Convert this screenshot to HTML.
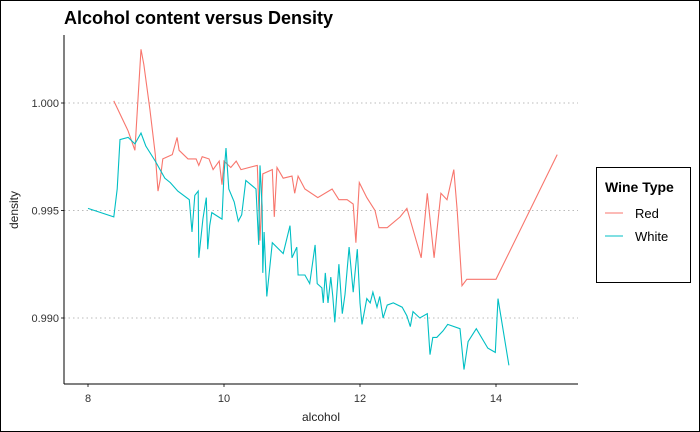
<!DOCTYPE html>
<html><head><meta charset="utf-8"><style>
body{margin:0;background:#fff}
svg{display:block;font-family:"Liberation Sans",Arial,sans-serif}
</style></head><body>
<svg id="chart" width="700" height="432">
<rect x="0.5" y="0.5" width="699" height="431" fill="#fff" stroke="#000"/>
<text x="64" y="24" font-size="18" font-weight="bold">Alcohol content versus Density</text>
<g id="grid"></g>
<g id="axes"></g>
<g id="series"></g>
<text x="321" y="421" font-size="12" text-anchor="middle" fill="#222">alcohol</text>
<text x="18" y="210" font-size="12" text-anchor="middle" fill="#222" transform="rotate(-90 18 210)">density</text>
<g>
<rect x="596.5" y="167.5" width="94" height="115" fill="#fff" stroke="#000"/>
<text x="605" y="192" font-size="14" font-weight="bold">Wine Type</text>
<line x1="605" y1="213" x2="623" y2="213" stroke="#F8766D"/>
<text x="635" y="218" font-size="13">Red</text>
<line x1="605" y1="236" x2="623" y2="236" stroke="#00BFC4"/>
<text x="635" y="241" font-size="13">White</text>
</g>
</svg>
<script>
const xTicks=[8,10,12,14];
const yTicks=[0.990,0.995,1.000];
const yTickLabels=["0.990","0.995","1.000"];
const redAlcohol=[8.38,8.50,8.59,8.69,8.78,8.82,8.91,8.99,9.03,9.06,9.10,9.24,9.31,9.34,9.47,9.59,9.63,9.68,9.78,9.84,9.93,9.97,10.00,10.10,10.18,10.25,10.49,10.53,10.57,10.71,10.74,10.78,10.87,11.00,11.04,11.09,11.19,11.38,11.59,11.69,11.81,11.90,11.94,11.99,12.10,12.22,12.28,12.40,12.59,12.69,12.90,12.99,13.09,13.19,13.28,13.38,13.43,13.50,13.57,14.00,14.90];
const redDensity=[1.0001,0.9993,0.9987,0.9978,1.0025,1.0018,0.9997,0.9976,0.9959,0.9964,0.9974,0.9976,0.9984,0.9978,0.9974,0.9974,0.9971,0.9975,0.9974,0.9969,0.9973,0.9962,0.9973,0.9970,0.9973,0.9969,0.9971,0.9936,0.9967,0.9969,0.9947,0.9970,0.9965,0.9966,0.9958,0.9966,0.9960,0.9956,0.9960,0.9955,0.9955,0.9953,0.9935,0.9963,0.9956,0.9950,0.9942,0.9942,0.9947,0.9951,0.9928,0.9958,0.9928,0.9958,0.9955,0.9969,0.9950,0.9915,0.9918,0.9918,0.9976];
const whiteAlcohol=[8.00,8.38,8.43,8.47,8.59,8.69,8.78,8.85,8.99,9.13,9.21,9.32,9.49,9.53,9.57,9.62,9.63,9.69,9.74,9.76,9.79,9.82,9.97,10.00,10.03,10.07,10.15,10.21,10.26,10.32,10.47,10.51,10.53,10.56,10.57,10.59,10.63,10.71,10.87,10.97,11.00,11.07,11.09,11.19,11.26,11.34,11.37,11.44,11.46,11.49,11.53,11.57,11.60,11.63,11.69,11.74,11.78,11.84,11.90,11.96,12.00,12.03,12.10,12.15,12.19,12.25,12.29,12.34,12.40,12.49,12.62,12.69,12.74,12.78,12.88,12.99,13.03,13.07,13.13,13.22,13.29,13.47,13.53,13.59,13.71,13.88,13.99,14.03,14.19];
const whiteDensity=[0.9951,0.9947,0.9960,0.9983,0.9984,0.9981,0.9986,0.9980,0.9973,0.9965,0.9963,0.9959,0.9955,0.9940,0.9957,0.9959,0.9928,0.9946,0.9956,0.9932,0.9943,0.9949,0.9946,0.9967,0.9979,0.9960,0.9954,0.9945,0.9948,0.9964,0.9960,0.9934,0.9971,0.9952,0.9921,0.9940,0.9910,0.9935,0.9930,0.9943,0.9928,0.9933,0.9920,0.9920,0.9916,0.9934,0.9916,0.9914,0.9907,0.9921,0.9907,0.9919,0.9910,0.9898,0.9925,0.9902,0.9911,0.9933,0.9912,0.9932,0.9907,0.9897,0.9909,0.9907,0.9912,0.9905,0.9910,0.9900,0.9906,0.9907,0.9905,0.9901,0.9896,0.9903,0.9900,0.9902,0.9883,0.9891,0.9891,0.9894,0.9897,0.9895,0.9876,0.9889,0.9895,0.9886,0.9884,0.9909,0.9878];

const NS="http://www.w3.org/2000/svg";
const L=64,R=578,T=35,B=384;
function sx(v){return 88+(v-8)*68;}
function sy(v){return 103+(1-v)/0.005*107.5;}
function mk(tag,attrs,parent){const e=document.createElementNS(NS,tag);for(const k in attrs)e.setAttribute(k,attrs[k]);parent.appendChild(e);return e;}
const grid=document.getElementById('grid'),axes=document.getElementById('axes'),series=document.getElementById('series');
yTicks.forEach((t,i)=>{
  const g=mk('line',{x1:L,x2:R,y1:sy(t),y2:sy(t),stroke:'#bbb','stroke-dasharray':'1.5 3'},grid);
  
  
  const tk=mk('line',{x1:L-3,x2:L,y1:sy(t),y2:sy(t),stroke:'#333'},axes);
  
  
  const tx=mk('text',{x:L-5,y:sy(t)+4,'font-size':11,'text-anchor':'end',fill:'#333'},axes);
  tx.textContent=yTickLabels[i];
  
  
});
xTicks.forEach(t=>{
  const tk=mk('line',{x1:sx(t),x2:sx(t),y1:B,y2:B+3,stroke:'#333'},axes);
  
  
  const tx=mk('text',{x:sx(t),y:B+18,'font-size':11,'text-anchor':'middle',fill:'#333'},axes);
  tx.textContent=t;
  
  
});
const xa=mk('line',{x1:L,x2:R,y1:B,y2:B,stroke:'#000'},axes);


const ya=mk('line',{x1:L,x2:L,y1:T,y2:B,stroke:'#000'},axes);


function line(xs,ys,color,name){
  const d=xs.map((x,i)=>(i?'L':'M')+sx(x).toFixed(1)+','+sy(ys[i]).toFixed(1)).join('');
  const p=mk('path',{d:d,fill:'none',stroke:color,'stroke-width':1.1},series);
  
  
}
line(redAlcohol,redDensity,'#F8766D','red-wine-line');
line(whiteAlcohol,whiteDensity,'#00BFC4','white-wine-line');
</script>
</body></html>
